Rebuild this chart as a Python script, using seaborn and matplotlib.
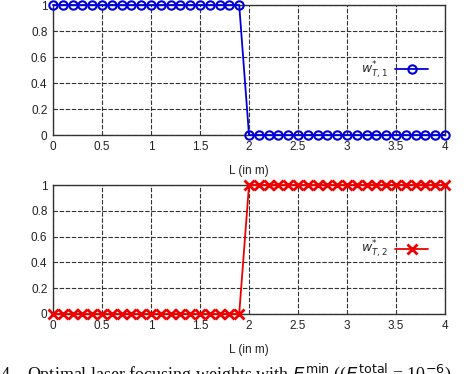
import matplotlib
matplotlib.use('Agg')
import matplotlib.pyplot as plt
import seaborn as sns
import pandas as pd

# data: optimal weights along L (in m)
L = [0.0, 0.1, 0.2, 0.3, 0.4, 0.5, 0.6, 0.7, 0.8, 0.9,
     1.0, 1.1, 1.2, 1.3, 1.4, 1.5, 1.6, 1.7, 1.8, 1.9,
     2.0, 2.1, 2.2, 2.3, 2.4, 2.5, 2.6, 2.7, 2.8, 2.9,
     3.0, 3.1, 3.2, 3.3, 3.4, 3.5, 3.6, 3.7, 3.8, 3.9, 4.0]
w_T1 = [1, 1, 1, 1, 1, 1, 1, 1, 1, 1,
        1, 1, 1, 1, 1, 1, 1, 1, 1, 1,
        0, 0, 0, 0, 0, 0, 0, 0, 0, 0,
        0, 0, 0, 0, 0, 0, 0, 0, 0, 0, 0]
w_T2 = [0, 0, 0, 0, 0, 0, 0, 0, 0, 0,
        0, 0, 0, 0, 0, 0, 0, 0, 0, 0,
        1, 1, 1, 1, 1, 1, 1, 1, 1, 1,
        1, 1, 1, 1, 1, 1, 1, 1, 1, 1, 1]
x_ticks = [0, 0.5, 1, 1.5, 2, 2.5, 3, 3.5, 4]
y_ticks = [0, 0.2, 0.4, 0.6, 0.8, 1]
x_ticklabels = ['0', '0.5', '1', '1.5', '2', '2.5', '3', '3.5', '4']
y_ticklabels = ['0', '0.2', '0.4', '0.6', '0.8', '1']

df = pd.DataFrame({'L': L, 'w1': w_T1, 'w2': w_T2})

sns.set_style("white")
plt.rcParams['font.family'] = ['Liberation Sans', 'DejaVu Sans']

fig = plt.figure(figsize=(4.74, 3.74), dpi=100)
ax1 = fig.add_axes([53/474, 1 - 135/374, 392/474, 130/374])
ax2 = fig.add_axes([53/474, 1 - 314/374, 392/474, 129/374])

panels = [
    (ax1, 'w1', '#0000dd', 'o', r'$w^{*}_{T,1}$',
     dict(markerfacecolor='none', markeredgewidth=1.5, markersize=6)),
    (ax2, 'w2', '#ee0000', 'x', r'$w^{*}_{T,2}$',
     dict(markeredgewidth=2.0, markersize=7)),
]

for ax, col, color, mk, lab, mkw in panels:
    sns.lineplot(data=df, x='L', y=col, ax=ax, color=color, marker=mk,
                 markeredgecolor=color, linestyle='-', linewidth=1.3,
                 label=lab, clip_on=False, zorder=5, **mkw)
    ax.set_xlim(0, 4)
    ax.set_ylim(0, 1)
    ax.set_xticks(x_ticks)
    ax.set_xticklabels(x_ticklabels)
    ax.set_yticks(y_ticks)
    ax.set_yticklabels(y_ticklabels)
    ax.tick_params(labelsize=8.5, colors='#222222', length=0, pad=4)
    ax.grid(True, color='#333333', linestyle=(0, (4, 1.5)), linewidth=0.8)
    for s in ax.spines.values():
        s.set_color('#333333')
        s.set_linewidth(1.0)
    ax.set_xlabel('L (in m)', fontsize=8.5, color='#222222', labelpad=9)
    ax.set_ylabel('')
    leg = ax.legend(loc='center right', bbox_to_anchor=(0.985, 0.5), frameon=False,
                    markerfirst=False, fontsize=9, handlelength=2.6,
                    handletextpad=0.6)

fig.text(0.0, 1 - 362/374,
         '4.   Optimal laser focusing weights with $E^{\\min}$ (($E^{\\rm total}$ = 10$^{-6}$)',
         fontsize=13, family=['Liberation Serif', 'DejaVu Serif'], va='top', ha='left',
         color='#111111')

fig.savefig('out.png', dpi=100)
